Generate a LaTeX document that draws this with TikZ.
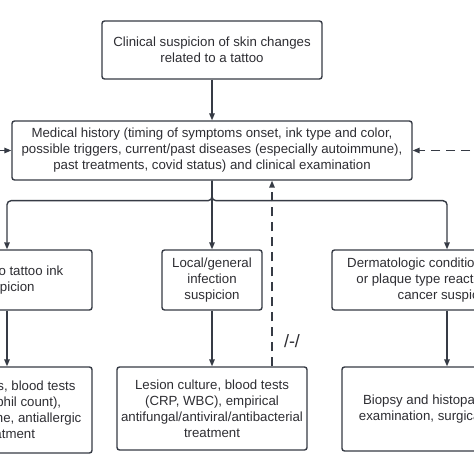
\documentclass[tikz,border=0pt]{standalone}
\usepackage{fontspec}
\setmainfont{Liberation Sans}
\usetikzlibrary{arrows.meta}
\definecolor{ln}{HTML}{363B45}
\definecolor{tx}{HTML}{2E2E33}
\tikzset{
  box/.style={draw=ln, line width=1.4bp, rounded corners=2.5bp, rectangle, align=center,
    inner sep=0pt, text=tx, font=\fontsize{13.3}{16}\selectfont},
  arr/.style={draw=ln, line width=1.4bp, -{Triangle[length=7bp,width=5.5bp]}},
  dsh/.style={dash pattern=on 9bp off 6bp},
}
\begin{document}
\begin{tikzpicture}[x=1bp,y=-1bp]
\useasboundingbox (0,0) rectangle (474,474);
\fill[white] (0,0) rectangle (474,474);
\clip (0,0) rectangle (474,474);
\node[box, minimum width=220bp, minimum height=58bp] (top) at (212,50)
  {Clinical suspicion of skin changes\\related to a tattoo};
\node[box, minimum width=400bp, minimum height=59bp] (med) at (212,150.5)
  {Medical history (timing of symptoms onset, ink type and color,\\possible triggers, current/past diseases (especially autoimmune),\\past treatments, covid status) and clinical examination};
\node[box, minimum width=170bp, minimum height=60bp] (r2l) at (7,280)
  {Allergy to tattoo ink\\suspicion};
\node[box, minimum width=100bp, minimum height=60bp] (r2m) at (212,280)
  {Local/general\\infection\\suspicion};
\node[box, minimum width=230bp, minimum height=60bp] (r2r) at (447,280)
  {Dermatologic condition (lichenoid)\\or plaque type reaction, or skin\\cancer suspicion};
\node[box, minimum width=170bp, minimum height=86bp] (r3l) at (7,410)
  {Patch tests, blood tests\\(eosinophil count),\\antihistamine, antiallergic\\treatment};
\node[box, minimum width=190bp, minimum height=83bp] (r3m) at (212,408.5)
  {Lesion culture, blood tests\\(CRP, WBC), empirical\\antifungal/antiviral/antibacterial\\treatment};
\node[box, minimum width=210bp, minimum height=84bp] (r3r) at (447,409)
  {Biopsy and histopathological\\examination, surgical excision};
\node[text=tx, font=\fontsize{18}{20}\selectfont] (lbl) at (292,341) {/-/};
\coordinate (lin) at (-30,150.5);
\coordinate (rin) at (500,150.5);
\draw[arr] (top) -- (med);
\draw[arr] (lin) -- (med.west);
\draw[arr, dsh] (rin) -- (med.east);
\draw[arr, rounded corners=4bp] (med.south) -- ++(0,20) -| (r2l.north);
\draw[arr, rounded corners=4bp] (med.south) -- ++(0,20) -| (r2r.north);
\draw[arr] (med.south) -- (r2m.north);
\draw[arr] (r2l) -- (r3l);
\draw[arr] (r2m) -- (r3m);
\draw[arr] (r2r) -- (r3r);
\draw[arr, dsh] ([xshift=60bp]r3m.north) -- ([xshift=60bp]med.south);
\end{tikzpicture}
\end{document}
